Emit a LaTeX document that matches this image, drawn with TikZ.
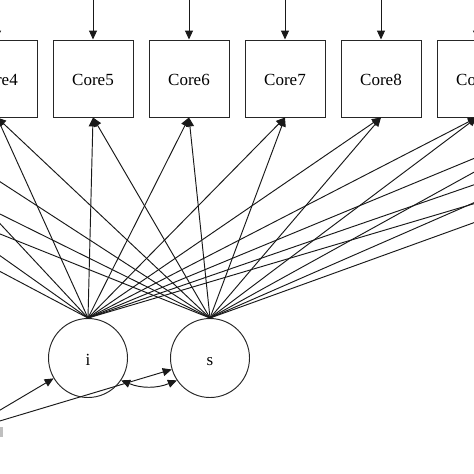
\documentclass[tikz,border=0pt]{standalone}
\usepackage{fontspec}
\setmainfont{Liberation Serif}
\usetikzlibrary{arrows.meta}
\begin{document}
\begin{tikzpicture}[x=1pt,y=1pt,
  core/.style={draw=black!85, line width=0.95pt, minimum width=80pt, minimum height=77pt, inner sep=0pt, text height=15pt, text depth=0.6pt, font=\fontsize{17}{19}\selectfont},
  lat/.style={draw=black!85, line width=0.95pt, circle, minimum size=79pt, inner sep=0pt, text height=16pt, text depth=0.5pt, font=\fontsize{17}{19}\selectfont},
  conn/.style={draw=black!90, line width=0.95pt, -{Triangle[length=9pt,width=8pt]}},
  cov/.style={draw=black!90, line width=0.95pt, {Triangle[length=9pt,width=8pt]}-{Triangle[length=9pt,width=8pt]}}]
\useasboundingbox (0,0) rectangle (474,-474);
\clip (0,0) rectangle (474,-474);
\foreach \k in {1,...,12}{
  \node[core] (c\k) at ({93+96*(\k-5)},-78.5) {Core\k};
  \coordinate (e\k) at ({93+96*(\k-5)},10);
}
\node[lat] (i) at (88,-358) {i};
\node[lat] (s) at (210,-358) {s};
\coordinate (x) at (-37,-432);
\foreach \k in {1,...,12}{
  \draw[conn] (e\k) -- (c\k.north);
  \draw[conn] (i.north) -- (c\k.south);
  \draw[conn] (s.north) -- (c\k.south);
}
\draw[conn] (x) -- (i);
\draw[conn] (x) -- (s);
\draw[cov] (i.-34) to[bend right=22] (s.-146);
\fill[black!25] (0,-427) rectangle (2.5,-437);
\end{tikzpicture}
\end{document}
